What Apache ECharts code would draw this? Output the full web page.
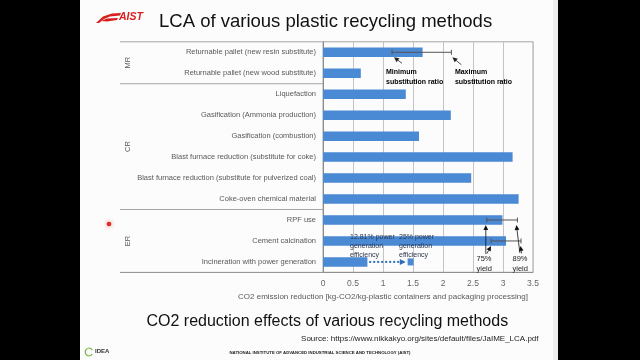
<!DOCTYPE html>
<html><head><meta charset="utf-8">
<script src="https://cdn.jsdelivr.net/npm/echarts@6/dist/echarts.min.js"></script>
<style>html,body{margin:0;padding:0;background:#000;}#c{width:640px;height:360px;}</style>
</head><body><div id="c"></div>
<script>
// ---- data ----
const categories = [
  'Returnable pallet (new resin substitute)',
  'Returnable pallet (new wood substitute)',
  'Liquefaction',
  'Gasification (Ammonia production)',
  'Gasification (combustion)',
  'Blast furnace reduction (substitute for coke)',
  'Blast furnace reduction (substitute for pulverized coal)',
  'Coke-oven chemical material',
  'RPF use',
  'Cement calcination',
  'Incineration with power generation'
];
const values = [1.66, 0.63, 1.38, 2.13, 1.60, 3.16, 2.47, 3.26, 2.99, 3.05, 0.74];
const errorRows = [0, 8, 9];
const errorLow = [1.15, 2.73, 2.80];
const errorHigh = [2.14, 3.24, 3.30];
const groupNames = ['MR', 'CR', 'ER'];
const groupSizes = [2, 6, 3];
const highEffRow = 10;
const highEffRange = [1.41, 1.51];
const dottedArrow = [0.77, 1.38];
const xTickLabels = ['0', '0.5', '1', '1.5', '2', '2.5', '3', '3.5'];
const xMin = 0, xMax = 3.5, xStep = 0.5;

const chart = echarts.init(document.getElementById('c'), null, {renderer: 'canvas'});
const BAR_BLUE = '#4a89d4';
const FONT = 'Liberation Sans';

const errData = errorRows.map((r, i) => [r, errorLow[i], errorHigh[i]]);

chart.setOption({
  animation: false,
  backgroundColor: '#000',
  grid: {left: 323, right: 107, top: 41.8, height: 230.6, show: true, borderColor: '#a6a6a6', borderWidth: 1, backgroundColor: 'transparent'},
  xAxis: {
    type: 'value', min: xMin, max: xMax, interval: xStep,
    axisLine: {show: false}, axisTick: {show: false},
    splitLine: {lineStyle: {color: '#c4c4c4', width: 1}},
    axisLabel: {color: '#666', fontSize: 8.5, fontFamily: FONT, margin: 7,
      formatter: v => xTickLabels[Math.round((v - xMin) / xStep)]}
  },
  yAxis: {
    type: 'category', data: categories, inverse: true,
    axisLine: {show: true, lineStyle: {color: '#8c8c8c'}},
    axisTick: {show: false},
    axisLabel: {color: '#595959', fontSize: 7.5, fontFamily: FONT, margin: 7}
  },
  series: [
    {type: 'bar', data: values, barWidth: 9.5, itemStyle: {color: BAR_BLUE}, z: 2},
    {type: 'custom', data: errData, z: 4,
      renderItem: (params, api) => {
        const r = api.value(0);
        const a = api.coord([api.value(1), r]);
        const b = api.coord([api.value(2), r]);
        const st = {stroke: '#555', lineWidth: 1};
        return {type: 'group', children: [
          {type: 'line', shape: {x1: a[0], y1: a[1], x2: b[0], y2: b[1]}, style: st},
          {type: 'line', shape: {x1: a[0], y1: a[1] - 2.5, x2: a[0], y2: a[1] + 2.5}, style: st},
          {type: 'line', shape: {x1: b[0], y1: b[1] - 2.5, x2: b[0], y2: b[1] + 2.5}, style: st}
        ]};
      }},
    {type: 'custom', data: [[highEffRow, highEffRange[0], highEffRange[1], dottedArrow[0], dottedArrow[1]]], z: 4,
      renderItem: (params, api) => {
        const r = api.value(0);
        const a = api.coord([api.value(1), r]);
        const b = api.coord([api.value(2), r]);
        const d1 = api.coord([api.value(3), r]);
        const d2 = api.coord([api.value(4), r]);
        return {type: 'group', children: [
          {type: 'rect', shape: {x: a[0], y: a[1] - 3.5, width: b[0] - a[0], height: 7}, style: {fill: BAR_BLUE}},
          {type: 'line', shape: {x1: d1[0], y1: d1[1], x2: d2[0] - 5, y2: d2[1]}, style: {stroke: '#2f6fba', lineWidth: 2, lineDash: [2, 2]}},
          {type: 'polygon', shape: {points: [[d2[0], d2[1]], [d2[0] - 6, d2[1] - 3], [d2[0] - 6, d2[1] + 3]]}, style: {fill: '#2f6fba'}}
        ]};
      }}
  ]
});

// ---- overlay graphics (slide, texts, annotations) ----
const P = (x, row) => chart.convertToPixel({gridIndex: 0}, [x, row]);
const rowH = P(0, 1)[1] - P(0, 0)[1];
const plotTop = P(0, 0)[1] - rowH / 2;
const axisX = P(0, 0)[0], rightX = P(xMax, 0)[0];
const plotBottom = P(0, categories.length - 1)[1] + rowH / 2;
const LEFT_X = 120;

function arrow(x1, y1, x2, y2, color) {
  const ang = Math.atan2(y2 - y1, x2 - x1), L = 5, W = 2.4;
  const bx = x2 - L * Math.cos(ang), by = y2 - L * Math.sin(ang);
  const px = -Math.sin(ang) * W, py = Math.cos(ang) * W;
  return [
    {type: 'line', shape: {x1, y1, x2: bx, y2: by}, style: {stroke: color, lineWidth: 0.8}, z: 20},
    {type: 'polygon', shape: {points: [[x2, y2], [bx + px, by + py], [bx - px, by - py]]}, style: {fill: color}, z: 20}
  ];
}
function txt(x, y, text, size, opts) {
  return Object.assign({type: 'text', x, y, z: 20,
    style: Object.assign({text, fontSize: size, fontFamily: FONT, fill: '#000', textVerticalAlign: 'middle'}, opts || {})});
}

const g = [];
// slide background
g.push({type: 'rect', shape: {x: 80, y: 0, width: 478, height: 360}, style: {fill: '#fcfcfc'}, z: -10, silent: true});
g.push({type: 'rect', shape: {x: 553, y: 0, width: 5, height: 360}, style: {fill: '#eeeeee'}, z: -9});

// header
g.push({type: 'polygon', shape: {points: [[96, 23], [103, 16.5], [112, 13.5], [121, 13], [120, 15.5], [110, 16.5], [104, 19], [99, 23]]}, style: {fill: '#d81e1e'}, z: 20});
g.push({type: 'polygon', shape: {points: [[101, 21], [107, 18.5], [118, 18], [117, 20], [107, 21.5]]}, style: {fill: '#d81e1e'}, z: 20});
g.push(txt(119, 17.5, 'AIST', 10.5, {fill: '#d81e1e', fontWeight: 'bold', fontStyle: 'italic', fontFamily: 'Liberation Sans'}));
g.push(txt(159, 21.5, 'LCA of various plastic recycling methods', 18.5, {fill: '#111'}));

// frame extensions and group separators
[plotTop, plotBottom].forEach((y, i) => g.push({type: 'line', shape: {x1: LEFT_X, y1: y, x2: axisX, y2: y}, style: {stroke: i ? '#8c8c8c' : '#a6a6a6', lineWidth: 1}, z: 10}));
g.push({type: 'line', shape: {x1: axisX, y1: plotBottom, x2: rightX, y2: plotBottom}, style: {stroke: '#8c8c8c', lineWidth: 1}, z: 10});
let acc = 0;
groupNames.forEach((name, gi) => {
  const startRow = acc, endRow = acc + groupSizes[gi] - 1;
  acc += groupSizes[gi];
  const cy = (P(0, startRow)[1] + P(0, endRow)[1]) / 2;
  g.push({type: 'text', x: 128, y: cy, rotation: Math.PI / 2, z: 20,
    style: {text: name, fontSize: 7.5, fontFamily: FONT, fill: '#595959', textAlign: 'center', textVerticalAlign: 'middle'}});
  if (gi < groupNames.length - 1) {
    const yb = P(0, endRow)[1] + rowH / 2;
    g.push({type: 'line', shape: {x1: LEFT_X, y1: yb, x2: axisX, y2: yb}, style: {stroke: '#a6a6a6', lineWidth: 1}, z: 10});
  }
});

// axis title
g.push(txt(383, 297, 'CO2 emission reduction [kg-CO2/kg-plastic containers and packaging processing]', 8, {fill: '#595959', textAlign: 'center'}));

// annotations: min / max substitution ratio
const pMin = P(errorLow[0], errorRows[0]), pMax = P(errorHigh[0], errorRows[0]);
g.push(...arrow(pMin[0] + 10, pMin[1] + 11, pMin[0] + 2, pMin[1] + 5, '#222'));
g.push(...arrow(pMax[0] + 10, pMax[1] + 12.5, pMax[0] + 1, pMax[1] + 5, '#222'));
g.push(txt(pMin[0] - 6, pMin[1] + 19.5, 'Minimum', 7, {fontWeight: 'bold'}));
g.push(txt(pMin[0] - 6, pMin[1] + 29.5, 'substitution ratio', 7, {fontWeight: 'bold'}));
g.push(txt(pMax[0] + 3.5, pMax[1] + 19.5, 'Maximum', 7, {fontWeight: 'bold'}));
g.push(txt(pMax[0] + 3.5, pMax[1] + 29.5, 'substitution ratio', 7, {fontWeight: 'bold'}));

// yield annotations
const rMin = P(errorLow[1], errorRows[1]), rMax = P(errorHigh[1], errorRows[1]);
const cMin = P(errorLow[2], errorRows[2]), cMax = P(errorHigh[2], errorRows[2]);
g.push(...arrow(rMin[0] - 1, rMin[1] + 34, rMin[0] - 1, rMin[1] + 5, '#111'));
g.push(...arrow(cMin[0] - 4, cMin[1] + 12.5, cMin[0], cMin[1] + 5, '#111'));
g.push(...arrow(rMax[0] + 2.5, rMax[1] + 33, rMax[0] - 1, rMax[1] + 5, '#111'));
g.push(...arrow(cMax[0] + 0.5, cMax[1] + 12.5, cMax[0] - 0.5, cMax[1] + 5, '#111'));
g.push(txt(476.5, 258.5, '75%', 7.5, {fill: '#222'}));
g.push(txt(476.5, 268.5, 'yield', 7.5, {fill: '#222'}));
g.push(txt(512.5, 258.5, '89%', 7.5, {fill: '#222'}));
g.push(txt(512.5, 268.5, 'yield', 7.5, {fill: '#222'}));

// power efficiency labels
['12.81% power', 'generation', 'efficiency'].forEach((t, i) => g.push(txt(350, 237 + i * 8.8, t, 7, {fill: '#2b3850'})));
['25% power', 'generation', 'efficiency'].forEach((t, i) => g.push(txt(399, 237 + i * 8.8, t, 7, {fill: '#2b3850'})));

// laser pointer dot
g.push({type: 'circle', shape: {cx: 109, cy: 224, r: 2.3}, style: {fill: '#e02a2a', shadowBlur: 4, shadowColor: 'rgba(230,40,40,0.6)'}, z: 20});

// footer
g.push(txt(146.5, 321.5, 'CO2 reduction effects of various recycling methods', 16, {fill: '#111'}));
g.push(txt(538.5, 338.5, 'Source: https://www.nikkakyo.org/sites/default/files/JaIME_LCA.pdf', 8, {fill: '#222', textAlign: 'right'}));
g.push(txt(320, 352.5, 'NATIONAL INSTITUTE OF ADVANCED INDUSTRIAL SCIENCE AND TECHNOLOGY (AIST)', 4.3, {fill: '#222', fontWeight: 'bold', textAlign: 'center'}));
g.push({type: 'arc', shape: {cx: 89, cy: 352, r: 3.8, startAngle: 0.6, endAngle: 5.8}, style: {stroke: '#7cb342', lineWidth: 1.2, fill: null}, z: 20});
g.push(txt(95, 351, 'IDEA', 6, {fill: '#333', fontWeight: 'bold'}));

chart.setOption({graphic: {elements: g}});
</script>
</body></html>
